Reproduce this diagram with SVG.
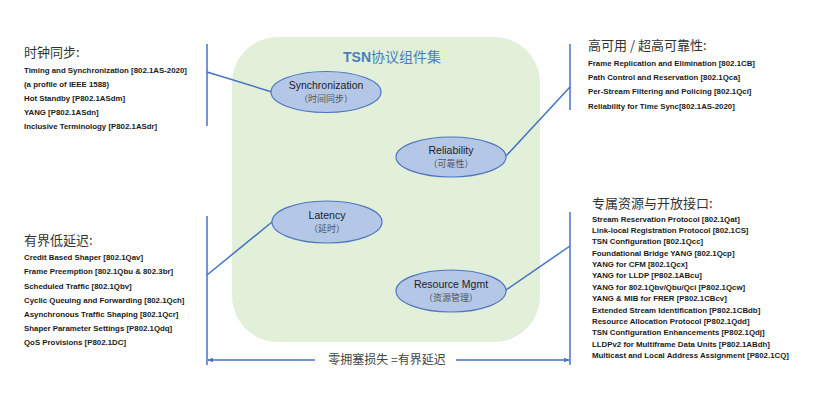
<svg xmlns="http://www.w3.org/2000/svg" width="830" height="402" viewBox="0 0 830 402">
<style>
.bg{fill:#ffffff}
.panel{fill:#e2efd9}
.node ellipse{fill:#b4c7e7;stroke:#4f76c0;stroke-width:1.2}
.en{font-family:"Liberation Sans",Arial,sans-serif;font-size:10.5px;fill:#222;text-anchor:middle}
.zh{font-family:"Noto Sans CJK SC",sans-serif;font-size:9px;fill:#555;text-anchor:middle}
.conn line{stroke:#4472c4;stroke-width:1.5;fill:none}
.head{font-family:"Noto Sans CJK SC",sans-serif;font-size:13px;fill:#333;font-weight:normal}
.item{font-family:"Liberation Sans",Arial,sans-serif;font-size:7.85px;font-weight:bold;fill:#1a1a1a}
.title{font-family:"Liberation Sans","Noto Sans CJK SC",sans-serif;font-size:14px;fill:#4a7ebb;text-anchor:middle;font-weight:bold}
.foot{font-family:"Noto Sans CJK SC",sans-serif;font-size:12px;fill:#444;text-anchor:middle}
</style>
<defs>
<marker id="ah" viewBox="0 0 10 10" refX="9" refY="5" markerWidth="6" markerHeight="6" orient="auto-start-reverse" markerUnits="userSpaceOnUse">
<path d="M0,1 L10,5 L0,9 z" fill="#4472c4"/>
</marker>
</defs>
<rect class="bg" x="0" y="0" width="830" height="402"/>
<g id="panel">
<rect class="panel" x="232" y="37" width="308" height="305" rx="46" ry="46"/>
<text class="title" x="392" y="62">TSN<tspan font-weight="normal">协议组件集</tspan></text>
</g>
<g id="connectors" class="conn">
<line x1="207" y1="44" x2="207" y2="126"/>
<line x1="207" y1="72" x2="272" y2="92"/>
<line x1="570" y1="44" x2="570" y2="110"/>
<line x1="570" y1="87" x2="506" y2="156"/>
<line x1="207" y1="216" x2="207" y2="365"/>
<line x1="207" y1="275" x2="272" y2="222"/>
<line x1="570" y1="212" x2="570" y2="365"/>
<line x1="570" y1="246" x2="506" y2="290"/>
<line x1="315" y1="360" x2="208" y2="360" marker-end="url(#ah)"/>
<line x1="456" y1="360" x2="569" y2="360" marker-end="url(#ah)"/>
</g>
<g id="footer">
<text class="foot" x="387" y="364">零拥塞损失 =有界延迟</text>
</g>
<g id="sync" class="node">
<ellipse cx="326" cy="92" rx="55" ry="20.5"/>
<text class="en" x="326" y="89">Synchronization</text>
<text class="zh" x="326" y="102">（时间同步）</text>
</g>
<g id="reliability" class="node">
<ellipse cx="451" cy="157" rx="55" ry="20"/>
<text class="en" x="451" y="154">Reliability</text>
<text class="zh" x="451" y="167">（可靠性）</text>
</g>
<g id="latency" class="node">
<ellipse cx="327" cy="222" rx="55" ry="21"/>
<text class="en" x="327" y="219">Latency</text>
<text class="zh" x="327" y="232">（延时）</text>
</g>
<g id="resource" class="node">
<ellipse cx="451" cy="291" rx="55" ry="21"/>
<text class="en" x="451" y="288">Resource Mgmt</text>
<text class="zh" x="451" y="301">（资源管理）</text>
</g>
<g id="sync-list">
<text class="head" x="24" y="57">时钟同步:</text>
<text class="item" x="24" y="72.7">Timing and Synchronization [802.1AS-2020]</text>
<text class="item" x="24" y="86.8">(a profile of IEEE 1588)</text>
<text class="item" x="24" y="101">Hot Standby [P802.1ASdm]</text>
<text class="item" x="24" y="115">YANG [P802.1ASdn]</text>
<text class="item" x="24" y="129.4">Inclusive Terminology [P802.1ASdr]</text>
</g>
<g id="latency-list">
<text class="head" x="24" y="245">有界低延迟:</text>
<text class="item" x="24" y="260">Credit Based Shaper [802.1Qav]</text>
<text class="item" x="24" y="274.4">Frame Preemption [802.1Qbu &amp; 802.3br]</text>
<text class="item" x="24" y="288.7">Scheduled Traffic [802.1Qbv]</text>
<text class="item" x="24" y="302.8">Cyclic Queuing and Forwarding [802.1Qch]</text>
<text class="item" x="24" y="317">Asynchronous Traffic Shaping [802.1Qcr]</text>
<text class="item" x="24" y="331">Shaper Parameter Settings [P802.1Qdq]</text>
<text class="item" x="24" y="345.4">QoS Provisions [P802.1DC]</text>
</g>
<g id="reliability-list">
<text class="head" x="588" y="50">高可用 / 超高可靠性:</text>
<text class="item" x="588" y="66">Frame Replication and Elimination [802.1CB]</text>
<text class="item" x="588" y="80.4">Path Control and Reservation [802.1Qca]</text>
<text class="item" x="588" y="94.4">Per-Stream Filtering and Policing [802.1Qci]</text>
<text class="item" x="588" y="108.7">Reliability for Time Sync[802.1AS-2020]</text>
</g>
<g id="resource-list">
<text class="head" x="592" y="208">专属资源与开放接口:</text>
<text class="item" x="592" y="221.7">Stream Reservation Protocol [802.1Qat]</text>
<text class="item" x="592" y="233">Link-local Registration Protocol [802.1CS]</text>
<text class="item" x="592" y="244.4">TSN Configuration [802.1Qcc]</text>
<text class="item" x="592" y="255.8">Foundational Bridge YANG [802.1Qcp]</text>
<text class="item" x="592" y="267.1">YANG for CFM [802.1Qcx]</text>
<text class="item" x="592" y="278.4">YANG for LLDP [P802.1ABcu]</text>
<text class="item" x="592" y="289.8">YANG for 802.1Qbv/Qbu/Qci [P802.1Qcw]</text>
<text class="item" x="592" y="301.2">YANG &amp; MIB for FRER [P802.1CBcv]</text>
<text class="item" x="592" y="312.5">Extended Stream Identification [P802.1CBdb]</text>
<text class="item" x="592" y="323.8">Resource Allocation Protocol [P802.1Qdd]</text>
<text class="item" x="592" y="335.2">TSN Configuration Enhancements [P802.1Qdj]</text>
<text class="item" x="592" y="346.5">LLDPv2 for Multiframe Data Units [P802.1ABdh]</text>
<text class="item" x="592" y="357.8">Multicast and Local Address Assignment [P802.1CQ]</text>
</g>
</svg>
